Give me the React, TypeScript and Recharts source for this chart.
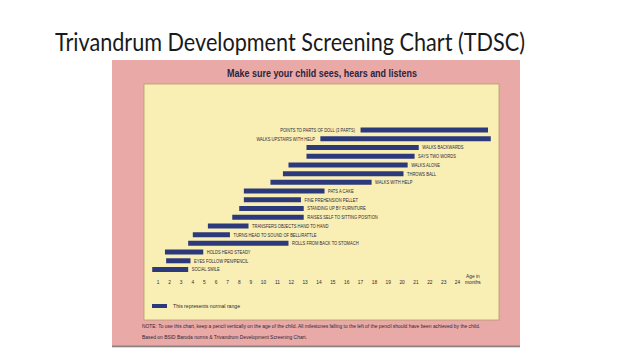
import React from 'react';
import { BarChart, Bar, XAxis, YAxis, LabelList } from 'recharts';

// ---------- data ----------
const MILESTONES = [
  'POINTS TO PARTS OF DOLL (3 PARTS)',
  'WALKS UPSTAIRS WITH HELP',
  'WALKS BACKWARDS',
  'SAYS TWO WORDS',
  'WALKS ALONE',
  'THROWS BALL',
  'WALKS WITH HELP',
  'PATS A CAKE',
  'FINE PREHENSION PELLET',
  'STANDING UP BY FURNITURE',
  'RAISES SELF TO SITTING POSITION',
  'TRANSFERS OBJECTS HAND TO HAND',
  'TURNS HEAD TO SOUND OF BELL/RATTLE',
  'ROLLS FROM BACK TO STOMACH',
  'HOLDS HEAD STEADY',
  'EYES FOLLOW PEN/PENCIL',
  'SOCIAL SMILE',
];
const START_MONTH = [17, 14.1, 13.1, 13.1, 11.8, 11.4, 10.5, 8.4, 8.4, 8.0, 7.4, 5.3, 4.0, 3.6, 1.6, 1.7, 0.5];
const END_MONTH = [26.2, 26.4, 21.2, 20.9, 20.4, 20.1, 17.8, 14.4, 12.7, 12.9, 12.9, 8.8, 7.2, 11.8, 4.9, 3.8, 3.6];
const LABEL_ON_LEFT = [true, true, false, false, false, false, false, false, false, false, false, false, false, false, false, false, false];
const MONTH_TICKS = [1, 2, 3, 4, 5, 6, 7, 8, 9, 10, 11, 12, 13, 14, 15, 16, 17, 18, 19, 20, 21, 22, 23, 24, 25];
const AXIS_END_LABEL = ['Age in', 'months'];
const SLIDE_TITLE = 'Trivandrum Development Screening Chart (TDSC)';
const CHART_TITLE = 'Make sure your child sees, hears and listens';
const LEGEND_TEXT = 'This represents normal range';
const NOTE_LINES = [
  'NOTE: To use this chart, keep a pencil vertically on the age of the child. All milestones falling to the left of the pencil should have been achieved by the child.',
  'Based on BSID Baroda norms & Trivandrum Development Screening Chart.',
];

// the printed month scale is compressed for the first months
const SCALE_KNOTS: [number, number][] = [
  [0, 0],
  [9.5, 0.3125],
  [27, 1],
];

const BAR_COLOR = '#2c3a7c';
const TEXT_COLOR = '#2a2838';

function piecewiseScale(knots: [number, number][]): any {
  let dom: number[] = [knots[0][0], knots[knots.length - 1][0]];
  let rng: number[] = [0, 1];
  const frac = (v: number) => {
    for (let i = 1; i < knots.length; i++) {
      if (v <= knots[i][0] || i === knots.length - 1) {
        const [d0, f0] = knots[i - 1];
        const [d1, f1] = knots[i];
        return f0 + ((v - d0) / (d1 - d0)) * (f1 - f0);
      }
    }
    return 0;
  };
  const s: any = (v: number) => rng[0] + frac(Number(v)) * (rng[1] - rng[0]);
  s.domain = (d?: number[]) => {
    if (d === undefined) return dom.slice();
    dom = d.slice();
    return s;
  };
  s.range = (r?: number[]) => {
    if (r === undefined) return rng.slice();
    rng = r.slice();
    return s;
  };
  s.copy = () => {
    const c = piecewiseScale(knots);
    c.domain(dom);
    c.range(rng);
    return c;
  };
  s.ticks = () => MONTH_TICKS.slice();
  s.tickFormat = () => (v: any) => String(v);
  s.invert = (p: number) => {
    const f = (p - rng[0]) / (rng[1] - rng[0]);
    for (let i = 1; i < knots.length; i++) {
      if (f <= knots[i][1] || i === knots.length - 1) {
        const [d0, f0] = knots[i - 1];
        const [d1, f1] = knots[i];
        return d0 + ((f - f0) / (f1 - f0)) * (d1 - d0);
      }
    }
    return 0;
  };
  return s;
}

const monthScale = piecewiseScale(SCALE_KNOTS);

const data = MILESTONES.map((name, i) => ({ name, range: [START_MONTH[i], END_MONTH[i]] }));

const MonthTick = (props: any) => {
  const { x, y, payload } = props;
  const v = payload.value;
  if (v === 25) {
    return (
      <g>
        <text x={x + 1.5} y={y + 4.2} textAnchor="middle" fontSize={4.8} fontFamily="Liberation Sans, Arial" fill={TEXT_COLOR}>
          {AXIS_END_LABEL[0]}
        </text>
        <text x={x + 1.5} y={y + 10} textAnchor="middle" fontSize={4.8} fontFamily="Liberation Sans, Arial" fill={TEXT_COLOR}>
          {AXIS_END_LABEL[1]}
        </text>
      </g>
    );
  }
  return (
    <text x={x} y={y + 10} textAnchor="middle" fontSize={4.8} fontFamily="Liberation Sans, Arial" fill={TEXT_COLOR}>
      {v}
    </text>
  );
};

const renderLabel = (props: any) => {
  const { x, y, width, height, value, index } = props;
  const left = LABEL_ON_LEFT[index];
  const tx = left ? Number(x) - 5.5 : Number(x) + Number(width) + 3.5;
  const ty = Number(y) + Number(height) / 2 + 1.9;
  return (
    <text
      transform={`translate(${tx},${ty}) scale(0.74,1)`}
      x={0}
      y={0}
      textAnchor={left ? 'end' : 'start'}
      fontSize={5.5}
      fontFamily="Liberation Sans, Arial"
      fill={TEXT_COLOR}
    >
      {value}
    </text>
  );
};

export default function App() {
  return (
    <div style={{ position: 'absolute', left: 0, top: 0, width: 638, height: 359, background: '#ffffff', overflow: 'hidden' }}>
      <svg width={638} height={359} style={{ position: 'absolute', left: 0, top: 0 }}>
        <text
          x={55}
          y={51}
          fontSize={25}
          fontWeight={400}
          fontFamily="Lato, 'Open Sans', sans-serif"
          fill="#1a1a1a"
          textLength={470}
          lengthAdjust="spacingAndGlyphs"
        >
          {SLIDE_TITLE}
        </text>
        <rect x={112} y={60} width={408} height={286} fill="#e9a9a6" />
        <rect x={112} y={345.5} width={408} height={1.8} fill="#8c8282" />
        <rect x={144} y={84} width={355} height={236} fill="#f9eeb4" stroke="#b39c70" strokeWidth={0.8} />
        <text
          x={227}
          y={76.5}
          fontSize={10}
          fontWeight="bold"
          fontFamily="Liberation Sans, Arial"
          fill="#2a2540"
          textLength={190}
          lengthAdjust="spacingAndGlyphs"
        >
          {CHART_TITLE}
        </text>
        <rect x={152} y={304} width={15} height={4} fill={BAR_COLOR} />
        <text x={173} y={308} fontSize={5.8} fontFamily="Liberation Sans, Arial" fill={TEXT_COLOR} textLength={67} lengthAdjust="spacingAndGlyphs">
          {LEGEND_TEXT}
        </text>
        <text x={142} y={328} fontSize={5.8} fontFamily="Liberation Sans, Arial" fill={TEXT_COLOR} textLength={338} lengthAdjust="spacingAndGlyphs">
          {NOTE_LINES[0]}
        </text>
        <text x={142} y={339} fontSize={5.8} fontFamily="Liberation Sans, Arial" fill={TEXT_COLOR} textLength={165} lengthAdjust="spacingAndGlyphs">
          {NOTE_LINES[1]}
        </text>
      </svg>
      <div style={{ position: 'absolute', left: 0, top: 0 }}>
        <BarChart
          width={638}
          height={359}
          data={data}
          layout="vertical"
          margin={{ top: 125.6, left: 146.4, right: 138.9, bottom: 75.3 }}
          barCategoryGap={0}
        >
          <XAxis
            type="number"
            domain={[0, 27]}
            scale={monthScale}
            ticks={MONTH_TICKS}
            interval={0}
            height={10}
            axisLine={false}
            tickLine={false}
            tickSize={0}
            tickMargin={0}
            tick={<MonthTick />}
          />
          <YAxis type="category" dataKey="name" hide />
          <Bar dataKey="range" fill={BAR_COLOR} barSize={5} isAnimationActive={false}>
            <LabelList dataKey="name" content={renderLabel} />
          </Bar>
        </BarChart>
      </div>
    </div>
  );
}
